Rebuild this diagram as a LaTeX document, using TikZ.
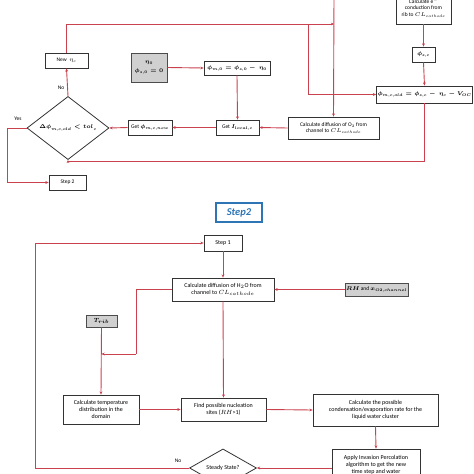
\RequirePackage{fix-cm}
\documentclass[tikz,border=0pt]{standalone}
\usepackage{amsmath,amssymb}
\usepackage{fontspec}
\setmainfont{Carlito}
\usetikzlibrary{arrows.meta,shapes.geometric,positioning,calc}
\definecolor{flowred}{HTML}{C9424D}
\definecolor{stepblue}{HTML}{2E75B6}
\definecolor{givengray}{HTML}{D0D0D0}

\begin{document}
\begin{tikzpicture}[x=1pt, y=-1pt,
    box/.style={rectangle, draw=black!80, line width=0.8pt, fill=white, align=center, inner sep=1pt, font=\fontsize{5.5}{6.6}\selectfont},
    lowbox/.style={box, font=\fontsize{6}{7.2}\selectfont},
    eqbox/.style={box, font=\fontsize{5.5}{6.6}\selectfont\boldmath},
    given/.style={box, fill=givengray, draw=black!70},
    check/.style={diamond, draw=black!80, line width=0.8pt, fill=white, inner sep=0pt, align=center},
    flow/.style={draw=flowred, line width=0.9pt, -{Stealth[length=3.2pt, width=2.8pt]}},
    link/.style={draw=flowred, line width=0.9pt},
    tag/.style={font=\fontsize{5.5}{6.6}\selectfont}
]
    \useasboundingbox (0,0) rectangle (474,474);
    \clip (0,0) rectangle (474,474);

    % Step 1 loop
    \node[box, minimum width=55, minimum height=32] (econd) at (423.5,8) {Calculate e$^-$\\conduction from\\rib to $CL_{cathode}$};
    \node[eqbox, minimum width=23, minimum height=15] (phisc) at (423.5,54.5) {$\phi_{s,c}$};
    \node[eqbox, minimum width=87, minimum height=17] (phiold) at (424.5,94.5) {$\phi_{m,c,old} = \phi_{s,c} - \ \eta_c - V_{OC}$};
    \node[box, minimum width=43, minimum height=15] (neweta) at (66.5,60.5) {New \ $\eta_c$};
    \node[given, font=\fontsize{5.5}{8}\selectfont\boldmath, minimum width=36, minimum height=29] (eta0) at (149,67.5) {$\eta_0$\\[1pt]$\phi_{s,0} = 0$};
    \node[eqbox, minimum width=66, minimum height=14] (phim0) at (237,68) {$\phi_{m,0} = \phi_{s,0} - \ \eta_0$};
    \node[box, minimum width=43, minimum height=15] (getI) at (237.5,127.5) {Get $\boldsymbol{I_{local,c}}$};
    \node[box, minimum width=91, minimum height=22] (diffO2) at (333.5,128) {Calculate diffusion of O$_2$ from\\channel to $CL_{cathode}$};
    \node[box, minimum width=44, minimum height=15] (getphi) at (150,127.5) {Get $\boldsymbol{\phi_{m,c,new}}$};
    \node[check, font=\fontsize{5.5}{6.6}\selectfont\boldmath, minimum width=82, minimum height=46] (tolc) at (68,128) {$\Delta\phi_{m,c,old} < tol_c$};
    \node[box, minimum width=37, minimum height=15] (step2box) at (67.5,182.5) {Step 2};

    \coordinate (topin) at (334,-5);
    \coordinate (topj) at (334,24);
    \coordinate (brk) at (308,24);
    \coordinate (oldret) at (424.5,161);
    \coordinate (yesturn) at (7,128);

    \draw[flow] (topin) -- (diffO2.north);
    \draw[flow] (neweta.north) |- (topj);
    \draw[flow] (brk) |- (phiold.west);
    \draw[flow] (econd.south) -- (phisc.north);
    \draw[flow] (phisc.south) -- (phiold.north);
    \draw[link] (phiold.south) -- (oldret);
    \draw[flow] (oldret) -| (tolc.south);
    \draw[flow] (eta0.east) -- (phim0.west);
    \draw[flow] (phim0.south) -- (getI.north);
    \draw[flow] (diffO2.west) -- (getI.east);
    \draw[flow] (getI.west) -- (getphi.east);
    \draw[flow] (getphi.west) -- (tolc.east);
    \draw[flow] (tolc.north) -- (neweta.south);
    \draw[link] (tolc.west) -- (yesturn);
    \draw[flow] (yesturn) |- (step2box.west);

    \node[tag] (notag) at (61,88) {No};
    \node[tag] (yestag) at (18,119) {Yes};

    % Step 2 heading
    \node[draw=stepblue, line width=1.4pt, text=stepblue, font=\fontsize{10.5}{12}\selectfont\bfseries\itshape, minimum width=46, minimum height=19, inner sep=1pt] (steptitle) at (239,212.5) {Step2};

    % Step 2 loop
    \node[lowbox, minimum width=38, minimum height=16] (step1) at (223,243) {Step 1};
    \node[lowbox, minimum width=102, minimum height=23] (diffH2O) at (223,289.5) {Calculate diffusion of H$_2$O from\\channel to $CL_{cathode}$};
    \node[given, font=\fontsize{5.5}{6.6}\selectfont, minimum width=59, minimum height=13] (rh) at (376.5,289.5) {$\boldsymbol{RH}$ and $\boldsymbol{x_{O2,channel}}$};
    \node[given, font=\fontsize{6}{7}\selectfont\boldmath, minimum width=31, minimum height=12] (trib) at (101.5,321) {$T_{rib}$};
    \node[lowbox, minimum width=76, minimum height=29] (temp) at (101,409.5) {Calculate temperature\\distribution in the\\domain};
    \node[lowbox, minimum width=85, minimum height=23] (nucl) at (223.5,409.5) {Find possible nucleation\\sites ($RH$>1)};
    \node[lowbox, minimum width=125, minimum height=32] (cond) at (375.5,410) {Calculate the possible\\condensation/evaporation rate for the\\liquid water cluster};
    \node[lowbox, minimum width=88, minimum height=38] (apply) at (376,468) {Apply Invasion Percolation\\algorithm to get the new\\time step and water\\distribution};
    \node[check, font=\fontsize{6}{7.2}\selectfont, minimum width=67, minimum height=32] (steady) at (223,468) {Steady State?};

    \coordinate (h2oturn) at (136,354);
    \coordinate (backbot) at (35,468);

    \draw[flow] (step1.south) -- (diffH2O.north);
    \draw[flow] (rh.west) -- (diffH2O.east);
    \draw[link] (diffH2O.west) -| (h2oturn);
    \draw[flow] (h2oturn) -- (trib.south |- h2oturn);
    \draw[flow] (trib.south) -- (temp.north);
    \draw[flow] (diffH2O.south) -- (nucl.north);
    \draw[flow] (temp.east) -- (nucl.west);
    \draw[flow] (nucl.east) -- (cond.west);
    \draw[flow] (cond.south) -- (apply.north);
    \draw[flow] (apply.west) -- (steady.east);
    \draw[link] (steady.west) -- (backbot);
    \draw[flow] (backbot) |- (step1.west);

    \node[tag] (notag2) at (178,461) {No};

\end{tikzpicture}
\end{document}
